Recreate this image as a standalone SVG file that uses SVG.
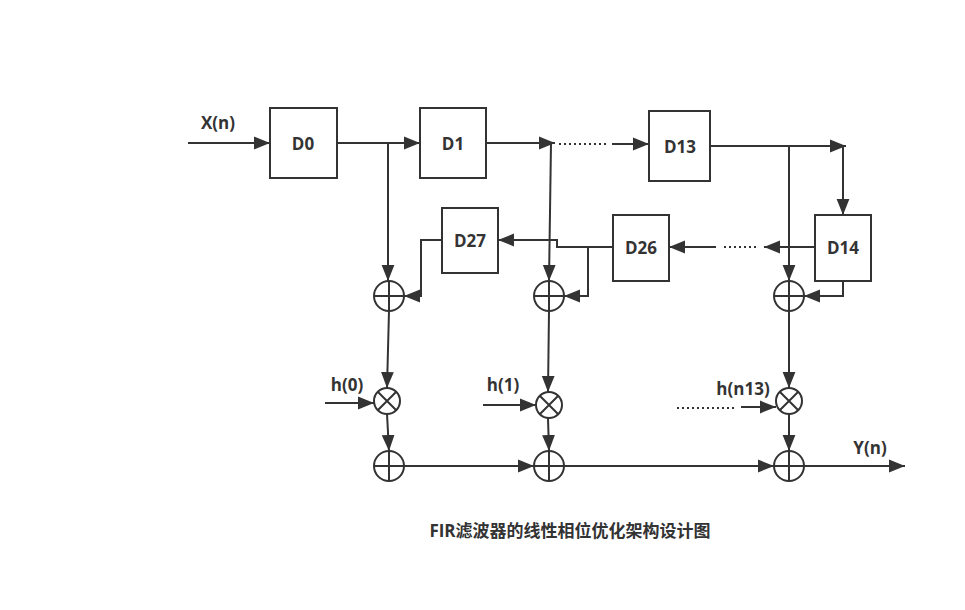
<svg xmlns="http://www.w3.org/2000/svg" width="965" height="610" viewBox="0 0 965 610">
<style>
.b{fill:#fff;stroke:#333;stroke-width:2}
.t{font-family:"Open Sans","Noto Sans CJK SC",sans-serif;font-weight:bold;font-size:17px;fill:#333;text-anchor:middle}
.c{fill:none;stroke:#333;stroke-width:2}
.d{fill:none;stroke:#333;stroke-width:2;stroke-dasharray:2 3}
.l{fill:none;stroke:#333;stroke-width:2;marker-end:url(#a)}
</style>
<defs><marker id="a" viewBox="0 0 10 10" refX="10" refY="5" markerWidth="8" markerHeight="8" markerUnits="userSpaceOnUse" orient="auto"><path d="M0,0L10,5L0,10z" fill="#333"/></marker>
<marker id="a2" viewBox="0 0 10 10" refX="10" refY="5" markerWidth="16" markerHeight="16" orient="auto" markerUnits="userSpaceOnUse"><path d="M0,1L10,5L0,9z" fill="#333"/></marker></defs>
<rect width="965" height="610" fill="#fff"/>
<g id="connectors" style="--m:url(#a2)">
<path class="c" marker-end="url(#a2)" d="M188,143H270"/>
<path class="c" marker-end="url(#a2)" d="M337,143H420"/>
<path class="c" marker-end="url(#a2)" d="M388,143V281"/>
<path class="c" marker-end="url(#a2)" d="M486,143H555"/>
<path class="d" d="M559,144H608"/>
<path class="c" marker-end="url(#a2)" d="M612,144H649"/>
<path class="c" marker-end="url(#a2)" d="M551,143L549,281"/>
<path class="c" marker-end="url(#a2)" d="M710,146H846"/>
<path class="c" marker-end="url(#a2)" d="M843,146V215"/>
<path class="c" marker-end="url(#a2)" d="M789,146V281"/>
<path class="c" marker-end="url(#a2)" d="M815,247H764"/>
<path class="d" d="M756,247H722"/>
<path class="c" marker-end="url(#a2)" d="M716,247H669"/>
<path class="c" marker-end="url(#a2)" d="M613,247H557V240H498"/>
<path class="c" marker-end="url(#a2)" d="M588,247V296H564"/>
<path class="c" marker-end="url(#a2)" d="M442,240H421V296H404"/>
<path class="c" marker-end="url(#a2)" d="M843,281V296H804"/>
<path class="c" marker-end="url(#a2)" d="M389,311L387,388"/>
<path class="c" marker-end="url(#a2)" d="M549,311L548,392"/>
<path class="c" marker-end="url(#a2)" d="M789,311V388"/>
<path class="c" marker-end="url(#a2)" d="M325,403H374"/>
<path class="c" marker-end="url(#a2)" d="M483,405H536"/>
<path class="d" d="M677,408H735"/>
<path class="c" marker-end="url(#a2)" d="M741,407H776"/>
<path class="c" marker-end="url(#a2)" d="M387,414L389,451"/>
<path class="c" marker-end="url(#a2)" d="M548,418L549,451"/>
<path class="c" marker-end="url(#a2)" d="M789,414V451"/>
<path class="c" marker-end="url(#a2)" d="M404,466H534"/>
<path class="c" marker-end="url(#a2)" d="M564,466H774"/>
<path class="c" marker-end="url(#a2)" d="M804,466H905"/>
</g>
<g id="D0"><rect class="b" x="270" y="108" width="67" height="70"/><text class="t" x="303" y="150">D0</text></g>
<g id="D1"><rect class="b" x="420" y="108" width="66" height="70"/><text class="t" x="453" y="150">D1</text></g>
<g id="D13"><rect class="b" x="649" y="111" width="61" height="70"/><text class="t" x="680" y="153">D13</text></g>
<g id="D14"><rect class="b" x="815" y="215" width="56" height="66"/><text class="t" x="843" y="254">D14</text></g>
<g id="D26"><rect class="b" x="613" y="215" width="56" height="66"/><text class="t" x="641" y="254">D26</text></g>
<g id="D27"><rect class="b" x="442" y="208" width="56" height="65"/><text class="t" x="470" y="247">D27</text></g>
<g id="add1"><circle class="b" cx="389" cy="296" r="15"/><path class="c" d="M374,296H404M389,281V311"/></g>
<g id="add2"><circle class="b" cx="549" cy="296" r="15"/><path class="c" d="M534,296H564M549,281V311"/></g>
<g id="add3"><circle class="b" cx="789" cy="296" r="15"/><path class="c" d="M774,296H804M789,281V311"/></g>
<g id="mul1"><circle class="b" cx="387" cy="401" r="13"/><path class="c" d="M378,392L396,410M396,392L378,410"/></g>
<g id="mul2"><circle class="b" cx="549" cy="405" r="13"/><path class="c" d="M540,396L558,414M558,396L540,414"/></g>
<g id="mul3"><circle class="b" cx="789" cy="401" r="13"/><path class="c" d="M780,392L798,410M798,392L780,410"/></g>
<g id="sum1"><circle class="b" cx="389" cy="466" r="15"/><path class="c" d="M374,466H404M389,451V481"/></g>
<g id="sum2"><circle class="b" cx="549" cy="466" r="15"/><path class="c" d="M534,466H564M549,451V481"/></g>
<g id="sum3"><circle class="b" cx="789" cy="466" r="15"/><path class="c" d="M774,466H804M789,451V481"/></g>
<g id="labels">
<text class="t" x="218" y="129">X(n)</text>
<text class="t" x="347" y="391">h(0)</text>
<text class="t" x="503" y="391">h(1)</text>
<text class="t" x="743" y="395">h(n13)</text>
<text class="t" x="870" y="454">Y(n)</text>
<text class="t" x="570" y="537">FIR滤波器的线性相位优化架构设计图</text>
</g>
</svg>
